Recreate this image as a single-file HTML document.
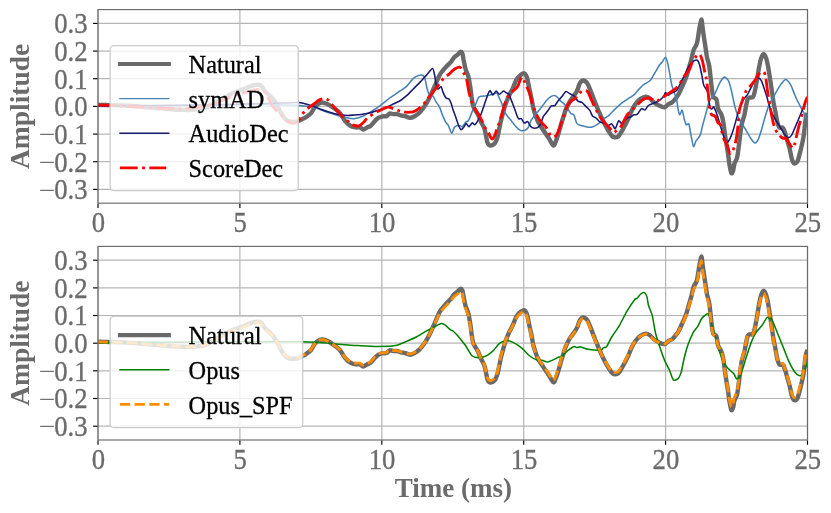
<!DOCTYPE html>
<html><head><meta charset="utf-8"><title>Waveform comparison</title>
<style>
html,body{margin:0;padding:0;background:#fff;}
svg{display:block;font-family:"Liberation Serif","Times New Roman",serif;}
.grid{stroke:#b5b5b5;stroke-width:1.2;}
.spine{fill:none;stroke:#6a6a6a;stroke-width:1.15;}
.tick{stroke:#000;stroke-width:1.15;}
.tl{font-size:29.5px;fill:#6b6b6b;stroke:#6b6b6b;stroke-width:0.35;}
.lab{font-size:27.5px;font-weight:bold;fill:#6b6b6b;}
.lt{font-size:25.2px;fill:#000;stroke:#000;stroke-width:0.3;}
.leg{fill:#fff;fill-opacity:0.8;stroke:#ccc;stroke-width:1.3;}
path,line{fill:none;}
.nat{stroke:#696969;stroke-width:4.4;stroke-linejoin:round;stroke-linecap:butt;}
.sym{stroke:#4682b4;stroke-width:1.55;stroke-linejoin:round;}
.aud{stroke:#191970;stroke-width:1.55;stroke-linejoin:round;}
.sco{stroke:#ff0000;stroke-width:2.85;stroke-dasharray:17.8 4.4 2.8 4.4;stroke-linejoin:round;}
.opu{stroke:#008000;stroke-width:1.55;stroke-linejoin:round;}
.nat.ls{stroke-width:4.2;}
.sym.ls,.aud.ls,.opu.ls{stroke-width:1.4;}
.spf{stroke:#ff8c00;stroke-width:2.85;stroke-dasharray:10.3 4.4;stroke-linejoin:round;}
</style></head><body>
<svg width="831" height="513" viewBox="0 0 831 513">
<rect width="831" height="513" fill="#fff"/>
<defs>
<clipPath id="c1"><rect x="98" y="9.6" width="709.5" height="193.6"/></clipPath>
<clipPath id="c2"><rect x="98" y="246.4" width="709.5" height="193.6"/></clipPath>
</defs>
<g class="ax">
<line x1="98" x2="807.5" y1="189.4" y2="189.4" class="grid"/>
<line x1="98" x2="807.5" y1="161.7" y2="161.7" class="grid"/>
<line x1="98" x2="807.5" y1="134.1" y2="134.1" class="grid"/>
<line x1="98" x2="807.5" y1="106.4" y2="106.4" class="grid"/>
<line x1="98" x2="807.5" y1="78.7" y2="78.7" class="grid"/>
<line x1="98" x2="807.5" y1="51.1" y2="51.1" class="grid"/>
<line x1="98" x2="807.5" y1="23.4" y2="23.4" class="grid"/>
<line x1="98" x2="98" y1="9.6" y2="203.2" class="grid"/>
<line x1="239.9" x2="239.9" y1="9.6" y2="203.2" class="grid"/>
<line x1="381.8" x2="381.8" y1="9.6" y2="203.2" class="grid"/>
<line x1="523.7" x2="523.7" y1="9.6" y2="203.2" class="grid"/>
<line x1="665.6" x2="665.6" y1="9.6" y2="203.2" class="grid"/>
<line x1="807.5" x2="807.5" y1="9.6" y2="203.2" class="grid"/>
</g>
<g clip-path="url(#c1)">
<path class="nat" d="M97.5 104.9 C99.6 104.9 105.6 105 110 105.1 C114.4 105.2 119 105.2 124 105.5 C129 105.8 135.2 106.2 140 106.6 C144.8 107 148.8 107.3 153 107.7 C157.2 108.1 161.4 108.4 165 108.7 C168.6 109 171.6 109.3 174.4 109.5 C177.2 109.7 179.6 109.8 182 109.9 C184.4 110 186.7 110 189 110 C191.3 110 193.6 109.8 196 109.6 C198.4 109.4 201.1 109.3 203.3 108.8 C205.5 108.2 206.5 107.6 209 106.3 C211.5 105 215.5 102.5 218.2 101 C220.9 99.5 222.8 98.4 225 97.2 C227.2 96 229.5 94.6 231.5 93.7 C233.5 92.8 235.2 92.2 237 91.6 C238.8 90.9 240.6 90.4 242.1 89.8 C243.6 89.2 244.7 88.8 246 88.2 C247.3 87.7 248.7 87 250 86.5 C251.3 86 252.7 85.5 254 85.2 C255.3 84.9 256.7 84.6 257.9 84.7 C259.1 84.8 260.3 84.9 261.4 86 C262.5 87.1 263.3 89.4 264.7 91.1 C266.1 92.8 268.4 94.3 270 95.9 C271.6 97.5 273.1 99 274.3 100.7 C275.6 102.4 276.4 104.1 277.5 106.1 C278.6 108.1 279.6 110.6 280.7 112.5 C281.8 114.4 282.8 116 283.9 117.3 C285 118.6 285.9 119.8 287.2 120.6 C288.4 121.3 290 121.6 291.4 121.8 C292.8 122 294.5 121.9 295.7 121.8 C296.9 121.7 297.3 121.4 298.4 121 C299.4 120.6 300.8 119.9 302 119.3 C303.2 118.7 304.1 118.4 305.6 117.4 C307.1 116.4 309.3 115.2 310.9 113.4 C312.4 111.6 313.6 108.5 314.9 106.8 C316.2 105.1 317.6 104.2 318.9 103.5 C320.2 102.8 321.3 102.4 322.8 102.6 C324.3 102.8 326.1 103.4 328.1 104.4 C330.1 105.4 332.8 107.3 334.8 108.8 C336.8 110.3 338.3 111.3 340.1 113.4 C341.9 115.5 343.6 119.3 345.4 121.4 C347.2 123.5 348.9 125 350.7 126 C352.5 127 354.5 127.2 356 127.4 C357.5 127.6 358.7 127 359.9 127.4 C361.1 127.8 362.1 129.6 363.3 129.6 C364.5 129.6 366 128 367.2 127.4 C368.4 126.8 369.3 127 370.5 126 C371.7 125 373.2 122.8 374.5 121.4 C375.8 120 377.2 118.5 378.5 117.7 C379.8 116.9 381.2 116.7 382.5 116.4 C383.8 116.1 385.3 116.6 386.5 116.1 C387.7 115.6 388.7 113.7 389.8 113.4 C390.9 113.1 391.9 114 393.1 114.1 C394.3 114.2 395.7 113.9 397 114.1 C398.3 114.3 399.6 115.1 401 115.4 C402.4 115.8 403.8 115.8 405.3 116.2 C406.8 116.6 408.3 117.8 409.9 117.8 C411.4 117.8 412.9 117.1 414.6 116.2 C416.3 115.3 418.2 113.9 419.9 112.2 C421.5 110.5 423.2 108.1 424.5 106.3 C425.8 104.5 426.4 103.5 427.5 101.5 C428.6 99.5 429.7 97.3 431.1 94.3 C432.5 91.3 434.4 87 435.8 83.7 C437.2 80.4 438.7 76.8 439.8 74.7 C440.9 72.6 441.3 72.5 442.4 71.1 C443.5 69.7 445 68 446.4 66.5 C447.8 65 449.8 63.3 451 61.9 C452.2 60.5 452.6 59.1 453.7 57.9 C454.8 56.7 456.6 55.6 457.7 54.6 C458.8 53.6 459.5 52.1 460.3 51.9 C461.1 51.7 461.8 52 462.3 53.3 C462.9 54.6 463.1 57.2 463.6 59.9 C464.2 62.5 464.8 66.5 465.6 69.2 C466.4 72 467.5 73.5 468.3 76.4 C469.1 79.3 469.6 83 470.2 86.4 C470.8 89.8 471.2 93.9 471.6 97 C472.1 100.1 472.5 103.1 472.9 105 C473.3 106.9 473.3 106.6 474.2 108.3 C475.1 110 477.1 112.7 478.2 114.9 C479.3 117.1 479.8 119.3 480.8 121.5 C481.8 123.7 483.3 125.7 484.2 128.1 C485.1 130.5 485.6 133.7 486.1 136.1 C486.7 138.5 486.8 141.1 487.5 142.7 C488.2 144.3 488.9 145.5 490.1 145.6 C491.3 145.7 493.6 144.8 494.8 143.4 C496 142 496.6 140 497.4 137.4 C498.2 134.8 498.7 131.2 499.4 128.1 C500.1 125 500.5 122.4 501.4 118.9 C502.3 115.4 503.8 110 504.7 106.9 C505.6 103.8 506.3 102.3 507 100.5 C507.7 98.7 508 97.9 509 95.8 C510 93.7 511.8 90.4 513 87.8 C514.2 85.2 515.2 81.9 516.3 79.9 C517.4 77.9 518.3 77 519.6 75.9 C520.9 74.8 523 73.1 524.2 73.3 C525.4 73.5 526.1 75 526.9 77.2 C527.7 79.4 528.1 83 528.9 86.5 C529.7 90 530.7 94.7 531.5 98.4 C532.3 102.2 532.7 105.9 533.5 109 C534.3 112.1 535.3 114.8 536.1 117 C536.9 119.2 537.2 120.3 538.4 122.5 C539.6 124.7 541.7 127.6 543.4 130.2 C545.1 132.8 547 135.6 548.7 138.1 C550.4 140.6 552.2 144.9 553.4 145.4 C554.6 145.9 555.1 142.9 556 140.8 C556.9 138.7 557.8 135.7 558.7 132.8 C559.6 129.9 560.5 126.3 561.3 123.6 C562.1 120.8 562.8 118.7 563.6 116.3 C564.4 113.9 564.9 111.5 566 109 C567.1 106.5 568.7 103.3 570 101.1 C571.3 98.9 572.7 97.6 573.9 95.8 C575.1 94 576.2 92.6 577.2 90.5 C578.2 88.4 578.9 84.9 579.9 83.2 C580.9 81.5 582 80.5 583.2 80.5 C584.4 80.5 586 81.5 587.2 83.2 C588.4 84.9 589.4 87.8 590.5 90.5 C591.6 93.2 592.6 96 593.8 99.1 C595 102.2 596.6 106.2 597.8 109 C599 111.8 599.7 113.6 600.8 116 C601.9 118.4 603.1 121.1 604.4 123.6 C605.7 126.1 607.2 128.8 608.4 130.8 C609.6 132.8 610.8 134.5 611.7 135.6 C612.6 136.7 612.8 137 613.8 137.2 C614.8 137.4 616.8 137.6 618 136.7 C619.2 135.8 620.2 133.8 621.3 132 C622.4 130.2 623.4 128.4 624.6 126.1 C625.8 123.8 627.4 120.8 628.6 118.1 C629.8 115.4 630.7 112.6 631.9 110.2 C633.1 107.8 634.4 105.5 635.8 103.6 C637.2 101.7 638.8 100.1 640.5 98.9 C642.2 97.8 644.2 96.8 645.8 96.7 C647.3 96.6 648.5 97.4 649.8 98.3 C651.1 99.2 652.2 101 653.7 102.2 C655.2 103.4 657.2 104.6 659 105.5 C660.8 106.4 662.9 107.6 664.4 107.4 C665.9 107.2 667 105.1 668.3 104.2 C669.6 103.3 671 103.3 672.3 102.2 C673.6 101.1 675.2 99 676.3 97.6 C677.4 96.2 677.7 95.9 678.7 94 C679.7 92.1 681.1 89 682.4 86.1 C683.7 83.2 685.2 79.9 686.3 76.8 C687.4 73.7 688.2 70.4 689 67.5 C689.8 64.6 690.5 62.4 691.3 59.5 C692.1 56.6 692.7 52.8 693.6 50.1 C694.5 47.4 696 46.5 696.9 43.4 C697.8 40.3 698.2 35.5 698.9 31.5 C699.6 27.5 700.6 19.8 701.3 19.6 C702 19.4 702.3 26.2 702.9 30.2 C703.5 34.2 704.2 39 704.9 43.4 C705.6 47.8 706.2 53 706.9 56.8 C707.6 60.6 708.6 62.2 709.2 66 C709.9 69.8 710.3 75.3 710.8 79.5 C711.3 83.7 711.8 88.5 712.2 91.4 C712.6 94.3 712.7 95.7 713.4 97 C714.1 98.3 715.7 97.6 716.5 99.5 C717.3 101.4 717.2 106 718 108.5 C718.8 111 720.3 112 721.2 114.2 C722.1 116.4 722.7 118.7 723.2 121.5 C723.8 124.3 724.1 127.7 724.5 130.8 C724.9 133.9 725.2 136.6 725.8 140.2 C726.3 143.8 727.2 148.2 727.8 152.2 C728.4 156.2 728.9 161.1 729.4 164.2 C729.9 167.3 730.4 169.3 730.7 170.8 C731.1 172.3 731.1 173.4 731.5 173.4 C731.9 173.4 732.6 172.5 733.1 170.8 C733.6 169.2 733.8 165.7 734.5 163.5 C735.2 161.3 736.4 160.3 737.1 157.5 C737.8 154.7 738.2 150.7 738.7 146.9 C739.2 143.2 739.7 138.8 740.2 135 C740.7 131.2 741 127.5 741.7 124.2 C742.4 120.9 743.6 118.2 744.4 114.9 C745.2 111.6 745.8 107 746.4 104.3 C747 101.6 747.2 100.1 747.8 99 C748.3 97.9 748.8 97.8 749.7 97.5 C750.6 97.2 752.1 98.2 753 97 C753.9 95.8 754.3 93.3 755 90.4 C755.7 87.5 756.3 83.6 757 79.8 C757.7 76 758.3 71.3 759 67.8 C759.7 64.3 760.2 60.9 761 58.6 C761.8 56.3 762.7 53.9 763.6 53.9 C764.5 53.9 765.5 56.3 766.3 58.6 C767.1 60.9 767.6 64.3 768.3 67.8 C768.9 71.3 769.6 75.5 770.2 79.8 C770.9 84.1 771.6 89.6 772.2 93.5 C772.8 97.4 773.1 99.9 773.6 103 C774.1 106.1 774.9 108.9 775.5 112.2 C776.1 115.5 776.8 120.2 777.5 122.8 C778.2 125.4 778.6 126.9 779.5 127.7 C780.4 128.5 781.9 127 782.8 127.7 C783.7 128.4 784.1 130.2 784.8 132.1 C785.5 134 786.1 136.6 786.9 139.3 C787.7 142 788.7 145.3 789.5 148.3 C790.3 151.3 791 155.3 791.5 157.5 C792 159.7 792.3 160.5 792.8 161.5 C793.3 162.5 793.6 163.5 794.4 163.5 C795.2 163.5 796.6 162.9 797.4 161.5 C798.2 160.1 798.7 157.3 799.4 154.9 C800.1 152.5 800.7 149.8 801.4 146.9 C802.1 144 802.8 141 803.4 137.7 C804 134.3 804.3 130.2 804.7 126.8 C805.1 123.4 805.5 119.8 806 117.5 C806.5 115.2 807.2 113.8 807.5 113"/>
<path class="sym" d="M97.5 106 C109.5 105.9 181 105.7 200 105.5 C219 105.3 250.1 104.6 260 104.5 C269.9 104.4 280.4 104.9 285 105 C289.6 105.1 296.3 105.3 299 105.5 C301.7 105.7 306.4 106.3 308.3 106.5 C310.2 106.7 313.4 107.1 314.9 107.5 C316.4 107.9 320 109.5 321.5 110.1 C323 110.7 326.5 111.9 328.1 112.4 C329.7 112.9 333.2 114 334.8 114.5 C336.4 115 339.9 116 341.4 116.4 C342.9 116.8 346.6 117.8 348 118.1 C349.4 118.4 352.1 118.7 353.3 118.7 C354.5 118.7 357.4 118 358.6 117.7 C359.8 117.4 362.7 116.4 363.9 115.8 C365.1 115.2 368 113.5 369.2 112.8 C370.4 112.1 373.1 110.4 374.5 109.5 C375.9 108.6 379.6 106 381.2 104.8 C382.8 103.6 386.3 100.7 387.8 99.5 C389.3 98.3 392.9 95.9 394.4 94.9 C395.9 93.9 399.1 91.7 400.5 90.7 C401.9 89.7 405.1 87.8 406.6 86.4 C408.1 85 411.9 79.7 413.3 78.4 C414.7 77.1 417.4 75.8 418.6 75.5 C419.8 75.2 422.4 75 423.2 75.5 C424 76 424.7 78.2 425.2 79.8 C425.7 81.4 426.7 87.3 427.2 89 C427.7 90.7 428.5 93.4 429.2 94.3 C429.9 95.2 432.3 95.5 433.1 96.3 C433.9 97.1 435 100 435.8 101.3 C436.6 102.6 439 106 439.8 107.6 C440.6 109.2 441.7 113.2 442.4 114.9 C443.1 116.6 445 121 445.7 122.2 C446.4 123.4 447.7 124.2 448.4 125.5 C449.1 126.8 451 133 451.7 133.2 C452.4 133.4 453.7 128.4 454.3 127.5 C454.9 126.6 456.3 125.9 457 125.7 C457.7 125.5 459.7 125.6 460.3 125.7 C460.9 125.8 461.7 127.2 462.3 126.8 C462.9 126.4 464.9 122.9 465.6 122.2 C466.3 121.5 467.7 121.7 468.3 120.8 C468.9 119.9 470.3 116.4 470.9 114.9 C471.5 113.4 473 109.7 473.6 108.3 C474.2 106.9 475.7 104.2 476.2 103 C476.7 101.8 477.7 98.7 478.2 97.9 C478.7 97.1 479.8 96.6 480.8 96.3 C481.8 96 485.6 95.9 487 95.7 C488.4 95.5 491.7 94.6 492.8 94.3 C493.9 94 496 92.7 496.8 93.2 C497.6 93.7 498.9 97.2 499.4 98.3 C499.9 99.4 500.9 101.2 501.5 102.8 C502.1 104.4 504 110.5 504.7 112 C505.4 113.5 506.7 115.1 507.4 116 C508.1 116.9 509.3 118.3 510.3 119.5 C511.3 120.7 514.4 124.9 515.6 126.2 C516.8 127.5 519.1 129.9 520.2 130.4 C521.3 130.9 524 130.5 524.9 130.2 C525.8 129.9 527.4 128.7 528.2 127.5 C529 126.3 530.5 121.3 531.5 119.6 C532.5 117.9 535.6 114.5 536.8 113 C538 111.5 541 107.8 542.1 106.4 C543.2 105 545.2 102.2 546.1 101.1 C547 100 549.1 97.8 550.1 97.1 C551.1 96.4 553.8 95.4 554.7 95.5 C555.6 95.6 557.3 97.1 558 97.8 C558.7 98.5 559.9 100.3 560.7 101.1 C561.5 101.9 563.7 103.4 564.6 104.4 C565.5 105.4 567.6 108.6 568.3 109.7 C569 110.8 570.2 113 570.9 113.6 C571.6 114.2 573.2 113.9 573.9 115 C574.6 116.1 576 121.8 576.6 123 C577.2 124.2 578.4 124.5 579.2 124.9 C580 125.3 582.2 125.8 583.2 126.1 C584.2 126.4 586.9 127.1 588 127.2 C589.1 127.3 591.8 127.1 593 126.7 C594.2 126.3 597.2 124.5 598.5 123.6 C599.8 122.7 602.6 119.7 603.8 118.7 C605 117.7 607.7 116.4 609 115.3 C610.3 114.2 613.8 110.3 615.3 108.9 C616.8 107.5 620.3 104.1 621.9 102.9 C623.5 101.7 627.2 99.2 628.6 98.3 C630 97.4 632.8 95.8 633.9 94.9 C635 94 636.9 91.5 638 90.3 C639.1 89.1 641.9 85.9 643.3 84.8 C644.7 83.7 648.6 82.1 649.9 80.8 C651.2 79.5 653.4 75.3 654.5 73.5 C655.6 71.7 658.3 66.9 659.2 65.5 C660.1 64.1 661.8 62.6 662.5 61.6 C663.2 60.6 664.9 57 665.5 57.2 C666.1 57.4 667.3 61.6 667.8 63.6 C668.3 65.6 669.3 71.7 669.8 74.2 C670.3 76.7 671.1 82.5 671.7 84.8 C672.3 87.1 674.1 92 674.6 93.5 C675.1 95 676 96.4 676.4 98 C676.8 99.6 677.4 105.5 677.8 107.5 C678.2 109.5 679.1 114.5 679.6 114.8 C680.1 115.1 681.7 109.7 682.2 110.2 C682.7 110.7 683.7 117.1 684.2 118.8 C684.7 120.5 685.7 124.2 686.2 124.8 C686.7 125.4 688.4 123 688.9 124.1 C689.4 125.2 690.3 131.4 690.8 134 C691.3 136.6 692.9 145.8 693.5 146.6 C694.1 147.4 695.3 142 696.1 140.7 C696.9 139.4 699.3 137.3 700.1 135.4 C700.9 133.5 702.1 127.5 702.8 124.8 C703.5 122.1 705.5 114.8 706.3 112 C707.1 109.2 708.5 102.8 709.5 100.7 C710.5 98.6 713.7 95.9 714.8 94 C715.9 92.1 717.9 86.6 718.8 84.8 C719.7 83 722.1 79.2 722.8 78.3 C723.5 77.4 724.3 76.9 725 77.2 C725.7 77.5 727.8 79.4 728.6 81 C729.4 82.6 730.8 88.2 731.5 91 C732.2 93.8 733.7 101.9 734.5 105 C735.3 108.1 737.5 115.3 738.4 117.5 C739.3 119.7 741.5 122.6 742.4 124.2 C743.3 125.8 745.4 129.1 746.4 130.8 C747.4 132.5 750 137.3 751 138.7 C752 140.1 754.1 142.9 755 143 C755.9 143.1 757.5 141 758.3 139.4 C759.1 137.8 760.8 132.1 761.6 129.5 C762.4 126.9 764 120.3 764.9 117.5 C765.8 114.7 767.8 107.9 768.9 105.4 C770 102.9 773 97.9 774.2 95.7 C775.4 93.5 778.2 88.3 779.5 86.4 C780.8 84.5 784.2 79.7 785.5 79.5 C786.8 79.3 789.7 83.3 790.8 85.1 C791.9 86.8 793.7 92.5 794.6 94.5 C795.5 96.5 797.4 100.7 798.3 102.5 C799.2 104.3 801.2 107.8 802.1 109.6 C803 111.3 805.4 116.2 806 117.5 C806.6 118.8 807.3 120.2 807.5 120.5"/>
<path class="aud" d="M97.5 106 C109.5 105.9 181 105.3 200 105 C219 104.7 250.1 103.7 260 103.5 C269.9 103.3 280.4 103.1 285 103 C289.6 102.9 296.3 102.4 299 102.6 C301.7 102.8 306.4 104.3 308.3 104.8 C310.2 105.3 313.4 106.3 314.9 106.8 C316.4 107.3 320 108.9 321.5 109.5 C323 110.1 326.5 111.3 328.1 111.8 C329.7 112.3 333.2 113.3 334.8 113.7 C336.4 114.1 339.9 114.8 341.4 115 C342.9 115.2 346.5 115.4 348 115.4 C349.5 115.4 353 115.1 354.6 115 C356.2 114.9 359.7 114.6 361.3 114.4 C362.9 114.2 366.4 113.5 367.9 113.2 C369.4 112.9 372.9 111.9 374.5 111.4 C376.1 110.9 379.6 109.7 381.2 109.2 C382.8 108.7 386.3 107.5 387.8 106.8 C389.3 106.1 392.9 104.2 394.4 103.5 C395.9 102.8 399.1 101.4 400.5 100.5 C401.9 99.6 405.1 97 406.6 95.7 C408.1 94.4 411.7 90.6 413.3 89 C414.9 87.4 418.4 84 419.9 82.4 C421.4 80.8 425 76.7 426.5 75.1 C428 73.5 431.6 68.6 432.5 68.5 C433.4 68.4 434.1 72.7 434.5 74.5 C434.9 76.3 435.6 82 436 83.7 C436.4 85.4 437.2 88.7 437.8 89 C438.4 89.3 440.5 86.3 441.1 86.7 C441.7 87.1 442.6 91.3 443.1 92.4 C443.6 93.5 444.6 95.8 445 96.5 C445.4 97.2 445.9 98 446.4 98.3 C446.9 98.6 448.5 98.5 449 99 C449.5 99.5 450.5 101.8 451 103 C451.5 104.2 452.5 108 453 109.6 C453.5 111.2 455.1 115.1 455.7 116.9 C456.3 118.7 457.7 123.3 458.3 124.8 C458.9 126.3 460.4 129.4 461 129.7 C461.6 130 463 128.2 463.6 127.5 C464.2 126.8 465.7 123.6 466.3 123.5 C466.9 123.4 468.2 126.9 468.9 126.8 C469.6 126.7 471.5 123 472.2 122.8 C472.9 122.6 474.2 125.1 474.9 124.8 C475.6 124.5 477.5 121.4 478.2 120.2 C478.9 119 480.2 116.3 480.8 114.9 C481.4 113.5 482.7 109.5 483.3 107.8 C483.9 106.1 485.1 102.2 485.7 100.6 C486.3 99 487.6 94.9 488.1 93.7 C488.6 92.5 489.6 90.2 490.1 90.4 C490.6 90.6 492.1 94.9 492.8 95 C493.5 95.1 495.3 91.1 496.1 91 C496.9 90.9 498.5 94.3 499.4 94.3 C500.3 94.3 502.6 91.2 503.4 91 C504.2 90.8 505.3 92.3 506 92.7 C506.7 93.1 508.3 93.2 509 94.2 C509.7 95.2 511 99.5 511.6 101.1 C512.2 102.7 513.6 106.2 514.3 108 C515 109.8 516.8 115.2 517.3 116.5 C517.8 117.8 518.4 118.8 518.9 119 C519.4 119.2 520.7 118 521.3 118.5 C521.9 119 523.4 122.6 524.2 123 C525 123.4 527.1 121.2 527.8 121.6 C528.5 122 529.8 125.5 530.5 126.3 C531.2 127.1 532.6 128 533.5 128.1 C534.4 128.2 537.2 127.7 538.1 127.2 C539 126.7 540.2 125.2 540.8 123.9 C541.4 122.6 542.6 117.8 543.4 116.3 C544.2 114.8 546.5 112.5 547.4 111.3 C548.3 110.1 550.5 106.6 551.4 105.9 C552.3 105.2 553.9 106.3 554.7 105.7 C555.5 105.1 557.1 102.2 558 101.1 C558.9 100 561.1 97.5 562 96.4 C562.9 95.3 565.1 91.8 566 91.5 C566.9 91.2 569 93.3 569.9 93.8 C570.8 94.3 573 94.9 573.9 95.8 C574.8 96.7 577 100.3 577.9 101.1 C578.8 101.9 581 101.8 581.9 102.4 C582.8 103 584.9 105.5 585.8 106.4 C586.7 107.3 589 109.3 589.8 110.4 C590.6 111.5 591.7 115.1 592.5 116 C593.3 116.9 595.5 117.6 596.4 118.3 C597.3 119 598.9 121.3 599.8 121.9 C600.7 122.5 603.4 123.2 604.4 123.6 C605.4 124 607.6 125.5 608.4 125.5 C609.2 125.5 610.9 123.7 611.5 123.8 C612.1 123.9 613.1 125.9 613.5 126.5 C613.9 127.1 614.7 129.4 615.3 128.7 C615.9 128 617.9 121.4 618.6 120.8 C619.3 120.2 620.8 123.3 621.3 123.4 C621.8 123.5 622.6 122 623.3 121.4 C624 120.8 626.3 118.6 627.2 118.1 C628.1 117.6 630.4 117.2 631.2 116.8 C632 116.4 633.2 115.1 633.9 114.8 C634.6 114.5 636.5 114.9 637.2 114.4 C637.9 113.9 639.3 111.5 639.8 110.8 C640.3 110.1 641.2 108.7 641.8 108.6 C642.4 108.5 644.3 110.3 645.1 109.9 C645.9 109.5 647.5 106.2 648.4 105.5 C649.3 104.8 651.5 104 652.4 103.6 C653.3 103.2 655.5 102.7 656.4 102.2 C657.3 101.7 659.5 100.3 660.4 99.6 C661.3 98.9 663.1 97.1 663.7 96.3 C664.3 95.5 664.9 92.7 665.4 92.6 C665.9 92.5 667.3 95.2 668 95.2 C668.7 95.2 670.5 93.5 671.5 93 C672.5 92.5 675.4 91.8 676.4 90.8 C677.4 89.8 678.8 86.6 679.7 84.8 C680.6 83 683.3 77.5 684.3 75.5 C685.3 73.5 687.4 69.1 688.3 67.5 C689.2 65.9 691.3 63.1 692.3 62.2 C693.3 61.3 696 59.8 696.9 60.1 C697.8 60.4 699.1 63.2 699.6 64.8 C700.1 66.4 701.1 71.7 701.6 74 C702.1 76.3 703.1 83.2 703.6 84.8 C704.1 86.4 705 87.2 705.5 88 C706 88.8 707.1 90.3 707.5 91.8 C707.9 93.3 708.6 98.9 708.9 100.7 C709.2 102.5 709.9 106.5 710.2 107.5 C710.6 108.5 711.5 109 711.9 108.9 C712.3 108.8 713.2 106.4 713.7 106.9 C714.2 107.4 716 111.9 716.6 113.6 C717.2 115.3 718.6 119.5 719.2 121.5 C719.8 123.5 721.2 128.6 721.9 130.8 C722.6 133 724.5 138.8 725.2 140.1 C725.9 141.4 727.1 142.6 727.8 142.1 C728.5 141.6 730.4 137.7 731.1 136.1 C731.8 134.5 733.2 130.1 733.8 128.1 C734.4 126.1 735.8 121.1 736.4 118.9 C737 116.7 738.4 111.6 739.1 109.6 C739.8 107.6 741.7 103 742.4 101.6 C743.1 100.2 744.4 98.4 745 97.5 C745.6 96.6 746.9 95.6 747.7 94.3 C748.5 93 750.8 88.1 751.7 86.4 C752.6 84.7 754.1 80.8 755 79.8 C755.9 78.8 758.2 78 759 78.2 C759.8 78.4 761 79.8 761.6 81.1 C762.2 82.4 763.7 87.1 764.3 89 C764.9 90.9 766.4 95.2 766.9 97 C767.4 98.8 768.3 102.4 768.9 104.3 C769.5 106.2 771.3 111.7 772.2 113.6 C773.1 115.5 775.2 119.1 776.2 120.8 C777.2 122.5 779.8 126.5 780.8 128.1 C781.8 129.7 783.9 133.7 784.8 134.8 C785.7 135.9 787.3 137.6 788.1 137.7 C788.9 137.8 790.7 136.5 791.5 135.4 C792.3 134.3 794 129.9 794.8 128.1 C795.6 126.3 797.3 122.1 798.1 120.2 C798.9 118.3 800.6 114.1 801.4 112.2 C802.2 110.3 804 105.9 804.7 104.3 C805.4 102.7 807.2 99.2 807.5 98.5"/>
<path class="sco" d="M97.5 105.2 C99.6 105.2 104.6 105.1 110 105.3 C115.4 105.5 121.7 106 130 106.5 C138.3 107 150.8 107.6 160 108 C169.2 108.4 177 109.3 185 108.8 C193 108.3 202.2 106.4 208 105.2 C213.8 104 216.3 102.8 220 101.5 C223.7 100.2 225.8 99 230 97.5 C234.2 96 241.2 93.7 245 92.5 C248.8 91.3 250.8 90.8 253 90.3 C255.2 89.8 256.2 89.6 258 89.8 C259.8 90 262.1 89.9 263.8 91.2 C265.5 92.5 266.6 95.1 268 97.5 C269.4 99.9 271.1 103.5 272.4 105.6 C273.7 107.7 274.1 108 276 110 C277.9 112 281.7 115.8 283.9 117.8 C286.1 119.8 287.5 121.1 289 122 C290.5 122.9 291.7 123.1 292.9 123.2 C294.1 123.3 295 123 296 122.5 C297 122 297.9 121.4 299 120 C300.1 118.6 300.8 116.1 302.3 114.1 C303.9 112.1 306.4 109.8 308.3 108.1 C310.2 106.4 311.7 105.6 313.6 104.2 C315.5 102.8 317.5 100.8 319.5 99.9 C321.5 99 323.8 98.3 325.5 98.6 C327.2 98.9 327.9 99.9 329.5 101.5 C331.1 103.1 332.9 105.9 334.8 108.1 C336.7 110.3 338.7 112.8 340.7 114.8 C342.7 116.8 344.8 118.3 346.7 120 C348.6 121.7 350.2 123.7 352 124.7 C353.8 125.7 356 125.9 357.3 126 C358.6 126.1 358.9 126.1 360 125.4 C361.1 124.7 362.6 123.3 363.9 122 C365.2 120.7 366.1 118.8 367.9 117.4 C369.7 116 372.3 114.7 374.5 113.4 C376.7 112.1 379 110.8 381.2 109.7 C383.4 108.7 385.7 107.2 387.8 107.1 C389.9 106.9 391.9 108.2 393.7 108.8 C395.5 109.4 397 110.1 398.4 110.5 C399.8 110.9 400.9 111.1 402 111.4 C403.1 111.7 403.9 112.1 405.3 112.2 C406.7 112.3 409 112.4 410.6 112.2 C412.2 112 413.6 111.7 415.2 110.9 C416.8 110.1 418.2 109 419.9 107.6 C421.6 106.2 423.3 104.6 425.2 102.3 C427.1 100 429.3 96.9 431.5 94 C433.7 91.1 436.4 87.7 438.4 85.1 C440.4 82.5 442 80.1 443.7 78.4 C445.4 76.7 446.7 76.1 448.4 74.7 C450.1 73.3 451.8 71 453.7 69.8 C455.6 68.5 458.1 66.9 459.6 67.2 C461.2 67.5 461.9 69.9 463 71.8 C464.1 73.7 465.5 76 466.3 78.4 C467.1 80.8 467.3 83.6 467.9 86.4 C468.4 89.2 468.9 92.3 469.6 95 C470.3 97.7 471 100 472 102.5 C473 105 474.2 107.9 475.5 110.2 C476.8 112.5 478.4 114.3 479.5 116.2 C480.6 118.1 481.3 119.6 482.2 121.5 C483.1 123.4 483.8 125.7 484.8 127.5 C485.8 129.3 487 130.2 488.1 132.1 C489.2 134 490.5 137.9 491.5 138.7 C492.5 139.5 493.2 138.2 494.1 136.7 C495 135.2 495.9 131.9 496.8 129.5 C497.7 127.1 498.5 124.9 499.4 122.2 C500.3 119.5 501.2 116.6 502.1 113.6 C503 110.6 503.9 106.7 504.8 104 C505.7 101.3 506.6 99 507.4 97.5 C508.2 96 508.6 96.1 509.5 95 C510.4 93.9 511.6 92.5 513 91.1 C514.4 89.7 516.4 88.4 517.6 86.5 C518.8 84.6 519.4 81.5 520.2 79.9 C521 78.4 521.3 76.5 522.2 77.2 C523.1 77.9 524.3 81.2 525.5 83.9 C526.7 86.6 528.3 89.6 529.5 93.1 C530.7 96.6 531.7 101.7 532.8 105.1 C533.9 108.5 535 111.1 536.1 113.6 C537.2 116 538.3 118 539.5 119.8 C540.7 121.6 542.2 123.1 543.4 124.5 C544.6 125.9 545.6 126.5 546.7 128.2 C547.8 129.9 549 133.4 550.1 134.8 C551.2 136.2 552.3 136.8 553.4 136.8 C554.5 136.8 555.7 136.2 556.7 134.8 C557.7 133.5 558.4 131 559.3 128.7 C560.2 126.4 561.1 123.5 562 121 C562.9 118.5 563.7 116.1 564.6 113.6 C565.5 111.1 566.2 108.1 567.3 106 C568.4 103.9 570 102.4 571.3 101.1 C572.6 99.8 574 99.6 575.2 98.4 C576.4 97.2 577.5 95 578.6 93.8 C579.7 92.6 580.9 92 581.9 91.5 C582.9 91 583.5 90.5 584.5 90.5 C585.5 90.5 586.7 90.4 587.8 91.8 C588.9 93.2 589.9 96.4 591.1 99.1 C592.3 101.8 593.7 104.9 595.1 107.7 C596.5 110.5 597.9 113.5 599.5 116 C601.1 118.5 603.3 121 605 123 C606.7 125 608.4 126.8 609.7 128.2 C611 129.6 612.2 130.9 613 131.5 C613.8 132.1 613.5 132.6 614.6 132 C615.8 131.4 618.5 129.8 619.9 128.1 C621.3 126.4 622.1 124.3 623.3 122.1 C624.5 119.9 625.7 116.9 627.2 114.8 C628.7 112.7 630.7 111.3 632.5 109.6 C634.3 107.8 636.2 106 638 104.3 C639.8 102.6 641.3 100.5 643.2 99.5 C645.1 98.5 647.4 97.8 649.5 98.1 C651.6 98.4 653.7 101.2 655.7 101.2 C657.8 101.2 659.8 99.3 661.8 98.1 C663.8 96.9 665.4 95.5 667.4 94.2 C669.4 92.9 671.7 91.7 673.6 90.2 C675.5 88.7 677.4 87 679 85 C680.6 83 681.7 80.1 683 78.1 C684.3 76.1 685.8 74.6 687 72.8 C688.2 71 689.4 69.3 690.3 67.5 C691.2 65.7 691.3 63.7 692.3 61.8 C693.3 59.9 695.1 57.5 696.3 56.3 C697.5 55.1 698.6 53.8 699.6 54.4 C700.6 55 701.4 57.5 702.2 60 C703 62.5 703.5 66.4 704.2 69.4 C704.9 72.4 705.7 75.1 706.2 78.1 C706.8 81.1 707.1 84.2 707.5 87.4 C707.9 90.6 708.4 93.8 708.7 97 C709 100.2 709 103.6 709.4 106.5 C709.8 109.4 710.3 112.5 711.3 114.2 C712.3 115.9 714.1 115 715.2 116.4 C716.3 117.8 717 121.4 717.9 122.8 C718.8 124.2 719.8 123.2 720.5 124.8 C721.2 126.3 721.3 129.8 721.9 132.1 C722.5 134.4 723 136.5 723.9 138.7 C724.8 140.9 726.2 143 727.2 145.4 C728.2 147.8 728.9 152.3 729.8 153.3 C730.7 154.3 731.6 152.9 732.5 151.3 C733.4 149.8 734.3 147 735.1 144 C735.9 141 736.6 137.2 737.1 133.4 C737.6 129.7 738 125.3 738.4 121.5 C738.8 117.7 738.6 114.1 739.3 110.5 C740 106.9 741.5 103.1 742.6 100 C743.7 96.9 744.3 94.2 745.7 91.7 C747.1 89.2 749.3 87.2 751 85.1 C752.7 83 754.4 81 755.7 79.1 C757 77.2 757.7 75 759 73.8 C760.3 72.6 762.5 71.2 763.6 71.8 C764.7 72.3 765.1 74.7 765.6 77.1 C766.1 79.5 766.5 83.2 766.9 86.4 C767.3 89.6 767.8 93.4 768.3 96.5 C768.8 99.6 769 101.9 769.6 105 C770.2 108.1 770.9 111.7 771.6 114.9 C772.3 118.1 772.8 121.5 773.6 124.2 C774.4 126.9 775.2 128.9 776.2 130.8 C777.2 132.7 778.4 134.2 779.5 135.4 C780.6 136.6 781.7 137.6 782.8 138.1 C783.9 138.6 785.1 137.9 786.1 138.7 C787.1 139.5 787.7 141.1 788.8 142.7 C789.9 144.2 791.8 147.8 792.8 148 C793.8 148.2 794.1 146.2 794.8 144 C795.5 141.8 796.1 137.7 796.8 134.8 C797.4 131.9 798.1 129.2 798.7 126.8 C799.4 124.4 800 122.6 800.7 120.2 C801.4 117.8 802 114.9 802.7 112.2 C803.4 109.5 804 106.3 804.7 104 C805.4 101.7 806.2 99.5 806.7 98.3 C807.2 97.1 807.4 97.2 807.5 97"/>
</g>
<rect x="98" y="9.6" width="709.5" height="193.6" class="spine"/>
<line x1="93.1" x2="97.5" y1="189.4" y2="189.4" class="tick"/>
<text transform="translate(87.6 199.2) scale(0.905 1)" class="tl" text-anchor="end">0.3</text>
<text transform="translate(55.4 197.5) scale(1 0.8)" class="tl" style="stroke-width:0" text-anchor="end">−</text>
<line x1="93.1" x2="97.5" y1="161.7" y2="161.7" class="tick"/>
<text transform="translate(87.6 171.5) scale(0.905 1)" class="tl" text-anchor="end">0.2</text>
<text transform="translate(55.4 169.9) scale(1 0.8)" class="tl" style="stroke-width:0" text-anchor="end">−</text>
<line x1="93.1" x2="97.5" y1="134.1" y2="134.1" class="tick"/>
<text transform="translate(87.6 143.9) scale(0.905 1)" class="tl" text-anchor="end">0.1</text>
<text transform="translate(55.4 142.2) scale(1 0.8)" class="tl" style="stroke-width:0" text-anchor="end">−</text>
<line x1="93.1" x2="97.5" y1="106.4" y2="106.4" class="tick"/>
<text transform="translate(87.6 116.2) scale(0.905 1)" class="tl" text-anchor="end">0.0</text>
<line x1="93.1" x2="97.5" y1="78.7" y2="78.7" class="tick"/>
<text transform="translate(87.6 88.5) scale(0.905 1)" class="tl" text-anchor="end">0.1</text>
<line x1="93.1" x2="97.5" y1="51.1" y2="51.1" class="tick"/>
<text transform="translate(87.6 60.9) scale(0.905 1)" class="tl" text-anchor="end">0.2</text>
<line x1="93.1" x2="97.5" y1="23.4" y2="23.4" class="tick"/>
<text transform="translate(87.6 33.2) scale(0.905 1)" class="tl" text-anchor="end">0.3</text>
<line x1="98" x2="98" y1="203.7" y2="208" class="tick"/>
<text transform="translate(98.3 232.4) scale(0.905 1)" class="tl" text-anchor="middle">0</text>
<line x1="239.9" x2="239.9" y1="203.7" y2="208" class="tick"/>
<text transform="translate(240.2 232.4) scale(0.905 1)" class="tl" text-anchor="middle">5</text>
<line x1="381.8" x2="381.8" y1="203.7" y2="208" class="tick"/>
<text transform="translate(382.1 232.4) scale(0.905 1)" class="tl" text-anchor="middle">10</text>
<line x1="523.7" x2="523.7" y1="203.7" y2="208" class="tick"/>
<text transform="translate(524 232.4) scale(0.905 1)" class="tl" text-anchor="middle">15</text>
<line x1="665.6" x2="665.6" y1="203.7" y2="208" class="tick"/>
<text transform="translate(665.9 232.4) scale(0.905 1)" class="tl" text-anchor="middle">20</text>
<line x1="807.5" x2="807.5" y1="203.7" y2="208" class="tick"/>
<text transform="translate(807.8 232.4) scale(0.905 1)" class="tl" text-anchor="middle">25</text>
<text transform="translate(28.5 106.4) rotate(-90)" class="lab" text-anchor="middle">Amplitude</text>
<rect x="110.1" y="45.6" width="188.2" height="145" rx="4" class="leg"/>
<line x1="117.9" x2="170.9" y1="64" y2="64" class="nat ls"/>
<text transform="translate(188.6 73.1) scale(0.965 1)" class="lt">Natural</text>
<line x1="119.3" x2="169.5" y1="98.6" y2="98.6" class="sym ls"/>
<text transform="translate(188.6 107.7) scale(0.965 1)" class="lt">symAD</text>
<line x1="119.3" x2="169.5" y1="133.2" y2="133.2" class="aud ls"/>
<text transform="translate(188.6 142.3) scale(0.965 1)" class="lt">AudioDec</text>
<line x1="119.9" x2="166.2" y1="167.8" y2="167.8" class="sco ls"/>
<text transform="translate(188.6 176.9) scale(0.965 1)" class="lt">ScoreDec</text>
<g class="ax">
<line x1="98" x2="807.5" y1="426.2" y2="426.2" class="grid"/>
<line x1="98" x2="807.5" y1="398.5" y2="398.5" class="grid"/>
<line x1="98" x2="807.5" y1="370.8" y2="370.8" class="grid"/>
<line x1="98" x2="807.5" y1="343.2" y2="343.2" class="grid"/>
<line x1="98" x2="807.5" y1="315.5" y2="315.5" class="grid"/>
<line x1="98" x2="807.5" y1="287.9" y2="287.9" class="grid"/>
<line x1="98" x2="807.5" y1="260.2" y2="260.2" class="grid"/>
<line x1="98" x2="98" y1="246.4" y2="440" class="grid"/>
<line x1="239.9" x2="239.9" y1="246.4" y2="440" class="grid"/>
<line x1="381.8" x2="381.8" y1="246.4" y2="440" class="grid"/>
<line x1="523.7" x2="523.7" y1="246.4" y2="440" class="grid"/>
<line x1="665.6" x2="665.6" y1="246.4" y2="440" class="grid"/>
<line x1="807.5" x2="807.5" y1="246.4" y2="440" class="grid"/>
</g>
<g clip-path="url(#c2)">
<path class="nat" d="M97.5 341.8 C99.6 341.8 105.6 341.9 110 342 C114.4 342.1 119 342.1 124 342.4 C129 342.6 135.2 343.1 140 343.5 C144.8 343.9 148.8 344.2 153 344.6 C157.2 344.9 161.4 345.3 165 345.6 C168.6 345.9 171.6 346.2 174.4 346.4 C177.2 346.6 179.6 346.7 182 346.8 C184.4 346.9 186.7 346.9 189 346.9 C191.3 346.8 193.6 346.7 196 346.5 C198.4 346.3 201.1 346.2 203.3 345.7 C205.5 345.1 206.5 344.5 209 343.2 C211.5 341.9 215.5 339.4 218.2 337.9 C220.9 336.4 222.8 335.3 225 334.1 C227.2 332.9 229.5 331.5 231.5 330.6 C233.5 329.7 235.2 329.1 237 328.5 C238.8 327.8 240.6 327.3 242.1 326.7 C243.6 326.1 244.7 325.6 246 325.1 C247.3 324.5 248.7 323.9 250 323.4 C251.3 322.9 252.7 322.4 254 322.1 C255.3 321.8 256.7 321.5 257.9 321.6 C259.1 321.7 260.3 321.8 261.4 322.9 C262.5 324 263.3 326.3 264.7 328 C266.1 329.6 268.4 331.2 270 332.8 C271.6 334.4 273.1 335.9 274.3 337.6 C275.6 339.3 276.4 341 277.5 343 C278.6 345 279.6 347.5 280.7 349.4 C281.8 351.3 282.8 352.8 283.9 354.2 C285 355.5 285.9 356.8 287.2 357.5 C288.4 358.2 290 358.5 291.4 358.7 C292.8 358.9 294.5 358.8 295.7 358.7 C296.9 358.6 297.3 358.3 298.4 357.9 C299.4 357.5 300.8 356.8 302 356.2 C303.2 355.6 304.1 355.3 305.6 354.3 C307.1 353.3 309.3 352.1 310.9 350.3 C312.4 348.5 313.6 345.3 314.9 343.7 C316.2 342 317.6 341.1 318.9 340.4 C320.2 339.7 321.3 339.3 322.8 339.5 C324.3 339.6 326.1 340.3 328.1 341.3 C330.1 342.3 332.8 344.2 334.8 345.7 C336.8 347.2 338.3 348.2 340.1 350.3 C341.9 352.4 343.6 356.2 345.4 358.3 C347.2 360.4 348.9 361.9 350.7 362.9 C352.5 363.9 354.5 364.1 356 364.3 C357.5 364.5 358.7 363.9 359.9 364.3 C361.1 364.7 362.1 366.5 363.3 366.5 C364.5 366.5 366 364.9 367.2 364.3 C368.4 363.7 369.3 363.9 370.5 362.9 C371.7 361.9 373.2 359.7 374.5 358.3 C375.8 356.9 377.2 355.4 378.5 354.6 C379.8 353.8 381.2 353.6 382.5 353.3 C383.8 353 385.3 353.5 386.5 353 C387.7 352.5 388.7 350.6 389.8 350.3 C390.9 350 391.9 350.9 393.1 351 C394.3 351.1 395.7 350.8 397 351 C398.3 351.2 399.6 351.9 401 352.3 C402.4 352.6 403.8 352.7 405.3 353.1 C406.8 353.5 408.3 354.7 409.9 354.7 C411.4 354.7 412.9 354 414.6 353.1 C416.3 352.2 418.2 350.8 419.9 349.1 C421.5 347.4 423.2 345 424.5 343.2 C425.8 341.4 426.4 340.4 427.5 338.4 C428.6 336.4 429.7 334.2 431.1 331.2 C432.5 328.2 434.4 323.9 435.8 320.6 C437.2 317.3 438.7 313.7 439.8 311.6 C440.9 309.5 441.3 309.4 442.4 308 C443.5 306.6 445 304.9 446.4 303.4 C447.8 301.9 449.8 300.2 451 298.8 C452.2 297.4 452.6 296 453.7 294.8 C454.8 293.6 456.6 292.5 457.7 291.5 C458.8 290.5 459.5 289 460.3 288.8 C461.1 288.6 461.8 288.9 462.3 290.2 C462.9 291.5 463.1 294.1 463.6 296.8 C464.2 299.4 464.8 303.3 465.6 306.1 C466.4 308.8 467.5 310.4 468.3 313.3 C469.1 316.2 469.6 319.9 470.2 323.3 C470.8 326.7 471.2 330.8 471.6 333.9 C472.1 337 472.5 340 472.9 341.9 C473.3 343.8 473.3 343.5 474.2 345.2 C475.1 346.8 477.1 349.6 478.2 351.8 C479.3 354 479.8 356.2 480.8 358.4 C481.8 360.6 483.3 362.6 484.2 365 C485.1 367.4 485.6 370.6 486.1 373 C486.7 375.4 486.8 378 487.5 379.6 C488.2 381.2 488.9 382.4 490.1 382.5 C491.3 382.6 493.6 381.7 494.8 380.3 C496 378.9 496.6 376.9 497.4 374.3 C498.2 371.8 498.7 368.1 499.4 365 C500.1 361.9 500.5 359.3 501.4 355.8 C502.3 352.3 503.8 346.9 504.7 343.8 C505.6 340.7 506.3 339.2 507 337.4 C507.7 335.5 508 334.8 509 332.7 C510 330.6 511.8 327.3 513 324.7 C514.2 322 515.2 318.8 516.3 316.8 C517.4 314.8 518.3 313.9 519.6 312.8 C520.9 311.7 523 310 524.2 310.2 C525.4 310.4 526.1 311.9 526.9 314.1 C527.7 316.3 528.1 319.9 528.9 323.4 C529.7 326.9 530.7 331.5 531.5 335.3 C532.3 339 532.7 342.8 533.5 345.9 C534.3 349 535.3 351.6 536.1 353.9 C536.9 356.1 537.2 357.2 538.4 359.4 C539.6 361.6 541.7 364.5 543.4 367.1 C545.1 369.7 547 372.5 548.7 375 C550.4 377.5 552.2 381.8 553.4 382.3 C554.6 382.8 555.1 379.8 556 377.7 C556.9 375.6 557.8 372.6 558.7 369.7 C559.6 366.8 560.5 363.2 561.3 360.5 C562.1 357.8 562.8 355.6 563.6 353.2 C564.4 350.8 564.9 348.4 566 345.9 C567.1 343.4 568.7 340.2 570 338 C571.3 335.8 572.7 334.5 573.9 332.7 C575.1 330.9 576.2 329.5 577.2 327.4 C578.2 325.3 578.9 321.8 579.9 320.1 C580.9 318.4 582 317.4 583.2 317.4 C584.4 317.4 586 318.4 587.2 320.1 C588.4 321.8 589.4 324.8 590.5 327.4 C591.6 330 592.6 332.9 593.8 336 C595 339.1 596.6 343.1 597.8 345.9 C599 348.7 599.7 350.5 600.8 352.9 C601.9 355.3 603.1 358 604.4 360.5 C605.7 363 607.2 365.7 608.4 367.7 C609.6 369.7 610.8 371.4 611.7 372.5 C612.6 373.6 612.8 373.9 613.8 374.1 C614.8 374.3 616.8 374.5 618 373.6 C619.2 372.7 620.2 370.7 621.3 368.9 C622.4 367.1 623.4 365.3 624.6 363 C625.8 360.7 627.4 357.6 628.6 355 C629.8 352.3 630.7 349.5 631.9 347.1 C633.1 344.7 634.4 342.4 635.8 340.5 C637.2 338.6 638.8 336.9 640.5 335.8 C642.2 334.6 644.2 333.7 645.8 333.6 C647.3 333.5 648.5 334.3 649.8 335.2 C651.1 336.1 652.2 337.9 653.7 339.1 C655.2 340.3 657.2 341.5 659 342.4 C660.8 343.3 662.9 344.5 664.4 344.3 C665.9 344.1 667 342 668.3 341.1 C669.6 340.2 671 340.2 672.3 339.1 C673.6 338 675.2 335.9 676.3 334.5 C677.4 333.1 677.7 332.8 678.7 330.9 C679.7 329 681.1 325.9 682.4 323 C683.7 320.1 685.2 316.8 686.3 313.7 C687.4 310.6 688.2 307.3 689 304.4 C689.8 301.5 690.5 299.3 691.3 296.4 C692.1 293.5 692.7 289.7 693.6 287 C694.5 284.3 696 283.4 696.9 280.3 C697.8 277.2 698.2 272.4 698.9 268.4 C699.6 264.4 700.6 256.7 701.3 256.5 C702 256.3 702.3 263.1 702.9 267.1 C703.5 271.1 704.2 275.9 704.9 280.3 C705.6 284.7 706.2 289.9 706.9 293.7 C707.6 297.5 708.6 299.1 709.2 302.9 C709.9 306.7 710.3 312.2 710.8 316.4 C711.3 320.6 711.8 325.4 712.2 328.3 C712.6 331.2 712.7 332.5 713.4 333.9 C714.1 335.2 715.7 334.5 716.5 336.4 C717.3 338.3 717.2 342.9 718 345.4 C718.8 347.8 720.3 348.9 721.2 351.1 C722.1 353.3 722.7 355.6 723.2 358.4 C723.8 361.2 724.1 364.6 724.5 367.7 C724.9 370.8 725.2 373.5 725.8 377.1 C726.3 380.7 727.2 385.1 727.8 389.1 C728.4 393.1 728.9 398 729.4 401.1 C729.9 404.2 730.4 406.2 730.7 407.7 C731.1 409.2 731.1 410.3 731.5 410.3 C731.9 410.3 732.6 409.4 733.1 407.7 C733.6 406 733.8 402.6 734.5 400.4 C735.2 398.2 736.4 397.2 737.1 394.4 C737.8 391.6 738.2 387.5 738.7 383.8 C739.2 380 739.7 375.7 740.2 371.9 C740.7 368.1 741 364.4 741.7 361.1 C742.4 357.8 743.6 355.1 744.4 351.8 C745.2 348.5 745.8 343.8 746.4 341.2 C747 338.5 747.2 337 747.8 335.9 C748.3 334.8 748.8 334.7 749.7 334.4 C750.6 334.1 752.1 335.1 753 333.9 C753.9 332.7 754.3 330.2 755 327.3 C755.7 324.4 756.3 320.5 757 316.7 C757.7 312.9 758.3 308.2 759 304.7 C759.7 301.2 760.2 297.8 761 295.5 C761.8 293.2 762.7 290.8 763.6 290.8 C764.5 290.8 765.5 293.2 766.3 295.5 C767.1 297.8 767.6 301.2 768.3 304.7 C768.9 308.2 769.6 312.4 770.2 316.7 C770.9 321 771.6 326.5 772.2 330.4 C772.8 334.3 773.1 336.8 773.6 339.9 C774.1 343 774.9 345.8 775.5 349.1 C776.1 352.4 776.8 357.1 777.5 359.7 C778.2 362.3 778.6 363.8 779.5 364.6 C780.4 365.4 781.9 363.9 782.8 364.6 C783.7 365.3 784.1 367.1 784.8 369 C785.5 370.9 786.1 373.5 786.9 376.2 C787.7 378.9 788.7 382.2 789.5 385.2 C790.3 388.2 791 392.2 791.5 394.4 C792 396.6 792.3 397.4 792.8 398.4 C793.3 399.4 793.6 400.4 794.4 400.4 C795.2 400.4 796.6 399.8 797.4 398.4 C798.2 397 798.7 394.2 799.4 391.8 C800.1 389.4 800.7 386.7 801.4 383.8 C802.1 380.9 802.8 377.9 803.4 374.6 C804 371.2 804.3 367.1 804.7 363.7 C805.1 360.3 805.5 356.7 806 354.4 C806.5 352.1 807.2 350.6 807.5 349.9"/>
<path class="opu" d="M97.5 342.9 C104.5 342.8 136.3 342.4 150 342.3 C163.7 342.2 186.7 342.1 200 342 C213.3 341.9 236.3 341.7 250 341.7 C263.7 341.7 293.5 341.6 302.7 341.7 C311.9 341.8 314.4 342.3 319.2 342.6 C324 342.9 333.5 343.8 338.7 344.2 C343.9 344.6 353 345.3 358.2 345.6 C363.4 345.9 372.8 346.5 377.7 346.5 C382.6 346.5 391.4 346.3 395.3 345.6 C399.2 344.9 404.1 342.3 407 341.1 C409.9 339.9 414.1 338.2 416.7 336.8 C419.3 335.4 424.2 332.2 426.5 330.9 C428.8 329.6 432.4 328 434.3 327 C436.2 326 439.7 323.8 441.1 323.5 C442.5 323.2 443.9 324.2 444.9 324.8 C445.9 325.4 447.7 327.5 448.5 328.2 C449.3 328.9 450.4 329.8 451 330.2 C451.6 330.6 452.1 330.3 453 331 C453.9 331.7 455.9 333.7 457.5 335.6 C459.1 337.5 463.3 342.6 465.3 345.3 C467.3 348 470.4 354.4 472.2 356 C474 357.6 477.1 357.7 479 357.6 C480.9 357.5 484.9 356.6 486.8 355.6 C488.7 354.6 491.9 351.8 493.6 350.2 C495.3 348.6 497.8 344.7 499.5 343.4 C501.2 342.1 504.5 340.5 506.3 340.4 C508.1 340.3 511 341.4 513.1 342.4 C515.2 343.4 519.7 346.4 521.9 348.2 C524.1 350 527.6 354.4 529.7 356 C531.8 357.6 535.9 359.7 537.5 360.3 C539.1 360.9 540.7 360 542 360.2 C543.3 360.4 545.7 361.9 547.2 361.9 C548.7 361.9 551.5 360.6 553.1 359.9 C554.7 359.2 557.8 357.3 558.9 357 C560 356.7 560.2 357.8 561 357.3 C561.8 356.8 563.1 354.5 564.8 353.1 C566.5 351.7 571.9 347.4 573.5 346.7 C575.1 346 576.1 347.5 577 347.5 C577.9 347.5 578.9 346.7 580.4 346.9 C581.9 347.1 585.8 348.8 588.1 349.2 C590.4 349.6 595.9 350.2 597.8 350.2 C599.7 350.2 601.2 349.8 602 349.5 C602.8 349.2 602.9 348 603.5 347.6 C604.1 347.2 605.4 348.1 606.5 346.8 C607.6 345.5 609.7 340.3 611.4 337.5 C613.1 334.7 617.1 329.3 619.2 325.8 C621.3 322.3 624.9 314.7 627 311.2 C629.1 307.7 633.5 301.2 634.8 299.5 C636.1 297.8 636.2 299.2 637 298.5 C637.8 297.8 639.7 294.8 640.7 294 C641.7 293.2 643.8 292.4 644.6 292.7 C645.4 293 646.4 294.9 646.9 296.6 C647.4 298.3 647.8 302.7 648.5 305.3 C649.2 307.9 651.5 312.4 652.4 316.1 C653.3 319.8 654.5 328.9 655.5 333 C656.5 337.1 658.5 343.1 659.7 346.8 C660.9 350.5 663.3 357.3 664.6 360.4 C665.9 363.5 668.3 367.6 669.5 370.2 C670.7 372.8 672.2 378.8 673.4 379.9 C674.6 381 677.3 379.4 678.3 378.4 C679.3 377.4 680.4 374.8 681.2 372.1 C682 369.4 683.2 362.1 684.1 358.5 C685 354.9 686.8 348.2 688 344.8 C689.2 341.4 691.6 335.6 692.9 333.1 C694.2 330.6 696.6 328.2 697.8 326.3 C699 324.4 700.7 320 701.7 318.5 C702.7 317 704.1 315.9 705 315.3 C705.9 314.7 707.6 312.9 708.5 314 C709.4 315.1 710.5 320.3 711.4 323.4 C712.3 326.5 714.3 333.4 715.3 337 C716.3 340.6 718 347.2 719.2 350.7 C720.4 354.2 722.8 360.9 724.1 363.4 C725.4 365.9 727.6 367.8 728.9 369.2 C730.2 370.6 732.8 372.4 733.8 373.7 C734.8 375 736 378.4 736.7 379 C737.4 379.6 738 378.9 738.7 378 C739.4 377.1 740.6 375 741.6 372.1 C742.6 369.2 745.2 360.5 746.5 356.5 C747.8 352.5 750.1 345.1 751.4 341.9 C752.7 338.7 754.8 334.4 756.2 332.2 C757.6 330 760.7 327.3 762.1 325.3 C763.5 323.3 766 318.4 767 317.5 C768 316.6 768.9 318.2 769.5 318.5 C770.1 318.8 770.8 317.8 771.8 319.5 C772.8 321.2 775.3 327.7 776.7 331.2 C778.1 334.7 781 341.9 782.6 345.8 C784.2 349.7 786.9 357 788.4 360.4 C789.9 363.8 792.8 369.2 794.2 371.2 C795.6 373.2 797.9 375.3 799.1 375.6 C800.3 375.9 802 375.2 803 373.7 C804 372.2 806.3 365.8 806.9 364.3 C807.5 362.8 807.4 362.7 807.5 362.5"/>
<path class="spf" d="M97.5 341.9 C99.6 341.9 105.6 342 110 342.1 C114.4 342.1 119 342.2 124 342.4 C129 342.7 135.2 343.1 140 343.5 C144.8 343.8 148.8 344.2 153 344.5 C157.2 344.9 161.4 345.2 165 345.5 C168.6 345.8 171.6 346 174.4 346.2 C177.2 346.4 179.6 346.5 182 346.6 C184.4 346.7 186.7 346.8 189 346.7 C191.3 346.7 193.6 346.5 196 346.3 C198.4 346.1 201.1 346.1 203.3 345.6 C205.5 345 206.5 344.4 209 343.2 C211.5 342 215.5 339.6 218.2 338.2 C220.9 336.7 222.8 335.7 225 334.5 C227.2 333.4 229.5 332.1 231.5 331.2 C233.5 330.3 235.2 329.8 237 329.2 C238.8 328.6 240.6 328.1 242.1 327.5 C243.6 327 244.7 326.5 246 326 C247.3 325.5 248.7 324.9 250 324.4 C251.3 323.9 252.7 323.4 254 323.1 C255.3 322.9 256.7 322.5 257.9 322.7 C259.1 322.8 260.3 322.9 261.4 323.9 C262.5 324.9 263.3 327.2 264.7 328.8 C266.1 330.3 268.4 331.8 270 333.3 C271.6 334.8 273.1 336.3 274.3 337.9 C275.6 339.5 276.4 341.1 277.5 343 C278.6 344.9 279.6 347.3 280.7 349.1 C281.8 350.9 282.8 352.4 283.9 353.6 C285 354.9 285.9 356.1 287.2 356.8 C288.4 357.5 290 357.7 291.4 357.9 C292.8 358.1 294.5 358 295.7 357.9 C296.9 357.8 297.4 357.6 298.4 357.2 C299.4 356.8 300.6 356.1 301.8 355.5 C303 355 303.9 354.7 305.4 353.7 C306.9 352.8 309.1 351.6 310.7 349.9 C312.2 348.3 313.4 345.2 314.7 343.7 C316 342.1 317.4 341.2 318.7 340.5 C320 339.9 321.1 339.5 322.6 339.7 C324.1 339.8 325.9 340.4 327.9 341.4 C329.9 342.4 332.6 344.1 334.6 345.6 C336.6 347 338.1 347.9 339.9 349.9 C341.7 351.9 343.4 355.5 345.2 357.5 C347 359.5 348.7 361 350.5 361.9 C352.3 362.9 354.3 363 355.8 363.2 C357.3 363.5 358.5 362.9 359.7 363.2 C360.9 363.6 361.9 365.3 363.1 365.3 C364.3 365.3 365.8 363.8 367 363.2 C368.2 362.7 369.1 362.9 370.3 361.9 C371.5 361 373 358.9 374.3 357.5 C375.6 356.2 377 354.8 378.3 354 C379.6 353.2 381 353 382.3 352.8 C383.6 352.5 385.1 353 386.3 352.5 C387.5 352 388.5 350.3 389.6 349.9 C390.7 349.6 391.7 350.5 392.9 350.6 C394.1 350.7 395.5 350.4 396.8 350.6 C398.1 350.8 399.4 351.5 400.8 351.8 C402.2 352.2 403.6 352.2 405.1 352.6 C406.6 353 408.1 354.1 409.7 354.1 C411.2 354.1 412.7 353.5 414.4 352.6 C416.1 351.7 418.1 350.4 419.7 348.8 C421.3 347.2 423 344.9 424.3 343.2 C425.6 341.5 426.2 340.5 427.3 338.6 C428.4 336.7 429.5 334.6 430.9 331.8 C432.3 329 434.2 324.8 435.6 321.7 C437.1 318.6 438.5 315.2 439.6 313.2 C440.7 311.2 441.1 311.1 442.2 309.8 C443.3 308.5 444.8 306.8 446.2 305.4 C447.6 303.9 449.6 302.4 450.8 301 C452 299.7 452.4 298.4 453.5 297.2 C454.6 296.1 456.4 295 457.5 294.1 C458.6 293.1 459.3 291.7 460.1 291.5 C460.9 291.3 461.6 291.6 462.1 292.8 C462.7 294.1 462.9 296.6 463.4 299.1 C464 301.6 464.6 305.3 465.4 307.9 C466.2 310.6 467.3 312.1 468.1 314.8 C468.9 317.5 469.4 321 470 324.3 C470.6 327.6 471 331.4 471.4 334.4 C471.9 337.3 472.3 340.2 472.7 342 C473.1 343.7 473.1 343.5 474 345.1 C474.9 346.7 476.9 349.3 478 351.4 C479.1 353.5 479.6 355.5 480.6 357.6 C481.6 359.7 483.1 361.6 484 363.9 C484.9 366.2 485.4 369.2 485.9 371.5 C486.5 373.8 486.6 376.3 487.3 377.8 C488 379.3 488.7 380.4 489.9 380.5 C491.1 380.6 493.4 379.7 494.6 378.4 C495.8 377.1 496.4 375.2 497.2 372.7 C498 370.3 498.5 366.8 499.2 363.9 C499.9 361 500.3 358.5 501.2 355.2 C502.1 351.8 503.6 346.7 504.5 343.8 C505.4 340.9 506.1 339.4 506.8 337.7 C507.5 335.9 507.8 335.2 508.8 333.2 C509.8 331.2 511.6 328.1 512.8 325.6 C514 323.1 515 320 516.1 318.1 C517.2 316.2 518.1 315.4 519.4 314.3 C520.7 313.3 522.8 311.6 524 311.8 C525.2 312.1 525.9 313.5 526.7 315.5 C527.5 317.6 527.9 321 528.7 324.4 C529.5 327.7 530.5 332.1 531.3 335.7 C532.1 339.3 532.5 342.8 533.3 345.8 C534.1 348.7 535.1 351.2 535.9 353.4 C536.7 355.5 537 356.5 538.2 358.6 C539.4 360.7 541.5 363.4 543.2 365.9 C544.9 368.4 546.8 371 548.5 373.4 C550.2 375.8 552 379.9 553.2 380.3 C554.4 380.8 554.9 378 555.8 376 C556.7 374 557.6 371.1 558.5 368.4 C559.4 365.6 560.3 362.2 561.1 359.6 C561.9 357 562.6 355 563.4 352.7 C564.2 350.4 564.7 348.2 565.8 345.8 C566.9 343.4 568.5 340.3 569.8 338.3 C571.1 336.2 572.5 334.9 573.7 333.2 C574.9 331.5 576 330.2 577 328.2 C578 326.2 578.7 322.8 579.7 321.2 C580.7 319.7 581.8 318.7 583 318.7 C584.2 318.7 585.8 319.7 587 321.2 C588.2 322.8 589.2 325.7 590.3 328.2 C591.4 330.7 592.4 333.4 593.6 336.4 C594.8 339.3 596.4 343.1 597.6 345.8 C598.8 348.4 599.5 350.1 600.6 352.4 C601.7 354.7 602.9 357.3 604.2 359.6 C605.5 362 607 364.6 608.2 366.5 C609.4 368.4 610.6 370 611.5 371 C612.4 372 612.5 372.4 613.6 372.5 C614.6 372.7 616.5 372.9 617.8 372.1 C619 371.3 620 369.3 621.1 367.6 C622.2 365.9 623.2 364.2 624.4 362 C625.6 359.8 627.2 356.9 628.4 354.4 C629.6 351.9 630.5 349.2 631.7 346.9 C632.9 344.6 634.2 342.4 635.6 340.6 C637 338.8 638.6 337.3 640.3 336.2 C642 335.1 644 334.2 645.6 334.1 C647.1 334 648.3 334.7 649.6 335.6 C650.9 336.5 652 338.2 653.5 339.3 C655 340.4 657 341.6 658.8 342.4 C660.6 343.3 662.6 344.4 664.2 344.2 C665.7 344 666.8 342 668.1 341.2 C669.4 340.4 670.8 340.3 672.1 339.3 C673.4 338.3 675 336.2 676.1 334.9 C677.2 333.6 677.5 333.3 678.5 331.5 C679.5 329.7 680.9 326.7 682.2 324 C683.5 321.3 685 318.1 686.1 315.2 C687.2 312.2 688 309.1 688.8 306.3 C689.6 303.6 690.3 301.5 691.1 298.7 C691.9 296 692.5 292.4 693.4 289.8 C694.3 287.3 695.8 286.4 696.7 283.4 C697.6 280.5 698 275.9 698.7 272.1 C699.4 268.4 700.4 261 701.1 260.8 C701.8 260.6 702.1 267.1 702.7 270.9 C703.3 274.7 704 279.2 704.7 283.4 C705.4 287.7 706 292.6 706.7 296.2 C707.4 299.7 708.4 301.3 709 304.9 C709.6 308.5 710.1 313.7 710.6 317.7 C711.1 321.8 711.6 326.3 712 329 C712.4 331.8 712.5 333.1 713.2 334.4 C713.9 335.6 715.5 334.9 716.3 336.7 C717.1 338.6 717 343 717.8 345.3 C718.6 347.6 720.1 348.6 721 350.7 C721.9 352.8 722.5 355 723 357.6 C723.5 360.3 723.9 363.5 724.3 366.5 C724.7 369.4 725 372 725.6 375.4 C726.1 378.8 727 383 727.6 386.8 C728.2 390.6 728.7 395.3 729.2 398.2 C729.7 401.1 730.1 403 730.5 404.5 C730.9 405.9 730.9 406.9 731.3 406.9 C731.7 406.9 732.4 406 732.9 404.5 C733.4 402.9 733.6 399.6 734.3 397.5 C735 395.4 736.2 394.5 736.9 391.8 C737.6 389.2 738 385.3 738.5 381.8 C739 378.2 739.5 374.1 740 370.5 C740.5 366.9 740.8 363.4 741.5 360.2 C742.2 357 743.4 354.5 744.2 351.4 C745 348.2 745.6 343.8 746.2 341.3 C746.8 338.8 747 337.3 747.6 336.3 C748.1 335.2 748.6 335.2 749.5 334.8 C750.4 334.5 751.9 335.5 752.8 334.4 C753.7 333.2 754.1 330.8 754.8 328.1 C755.5 325.4 756.1 321.6 756.8 318 C757.5 314.4 758.1 310 758.8 306.6 C759.5 303.3 760 300.1 760.8 297.9 C761.6 295.7 762.5 293.4 763.4 293.4 C764.3 293.4 765.3 295.7 766.1 297.9 C766.9 300.1 767.4 303.3 768.1 306.6 C768.7 310 769.4 314 770 318 C770.6 322.1 771.4 327.4 772 331 C772.6 334.7 772.9 337.1 773.4 340.1 C773.9 343 774.6 345.7 775.3 348.8 C775.9 351.9 776.6 356.4 777.3 358.9 C778 361.3 778.4 362.7 779.3 363.5 C780.2 364.3 781.7 362.8 782.6 363.5 C783.5 364.2 783.9 365.9 784.6 367.7 C785.3 369.5 785.9 372 786.7 374.5 C787.5 377.1 788.5 380.2 789.3 383.1 C790.1 386 790.8 389.7 791.3 391.8 C791.8 393.9 792.1 394.7 792.6 395.6 C793.1 396.6 793.4 397.5 794.2 397.5 C795 397.5 796.4 397 797.2 395.6 C798 394.3 798.5 391.7 799.2 389.4 C799.9 387.1 800.5 384.5 801.2 381.8 C801.9 379 802.6 376.2 803.2 373 C803.8 369.8 804.1 365.9 804.5 362.7 C804.9 359.5 805.3 356 805.8 353.8 C806.3 351.6 807 350.3 807.3 349.6"/>
</g>
<rect x="98" y="246.4" width="709.5" height="193.6" class="spine"/>
<line x1="93.1" x2="97.5" y1="426.2" y2="426.2" class="tick"/>
<text transform="translate(87.6 436) scale(0.905 1)" class="tl" text-anchor="end">0.3</text>
<text transform="translate(55.4 434.3) scale(1 0.8)" class="tl" style="stroke-width:0" text-anchor="end">−</text>
<line x1="93.1" x2="97.5" y1="398.5" y2="398.5" class="tick"/>
<text transform="translate(87.6 408.3) scale(0.905 1)" class="tl" text-anchor="end">0.2</text>
<text transform="translate(55.4 406.6) scale(1 0.8)" class="tl" style="stroke-width:0" text-anchor="end">−</text>
<line x1="93.1" x2="97.5" y1="370.8" y2="370.8" class="tick"/>
<text transform="translate(87.6 380.6) scale(0.905 1)" class="tl" text-anchor="end">0.1</text>
<text transform="translate(55.4 379) scale(1 0.8)" class="tl" style="stroke-width:0" text-anchor="end">−</text>
<line x1="93.1" x2="97.5" y1="343.2" y2="343.2" class="tick"/>
<text transform="translate(87.6 353) scale(0.905 1)" class="tl" text-anchor="end">0.0</text>
<line x1="93.1" x2="97.5" y1="315.5" y2="315.5" class="tick"/>
<text transform="translate(87.6 325.3) scale(0.905 1)" class="tl" text-anchor="end">0.1</text>
<line x1="93.1" x2="97.5" y1="287.9" y2="287.9" class="tick"/>
<text transform="translate(87.6 297.7) scale(0.905 1)" class="tl" text-anchor="end">0.2</text>
<line x1="93.1" x2="97.5" y1="260.2" y2="260.2" class="tick"/>
<text transform="translate(87.6 270) scale(0.905 1)" class="tl" text-anchor="end">0.3</text>
<line x1="98" x2="98" y1="440.5" y2="444.8" class="tick"/>
<text transform="translate(98.3 469.2) scale(0.905 1)" class="tl" text-anchor="middle">0</text>
<line x1="239.9" x2="239.9" y1="440.5" y2="444.8" class="tick"/>
<text transform="translate(240.2 469.2) scale(0.905 1)" class="tl" text-anchor="middle">5</text>
<line x1="381.8" x2="381.8" y1="440.5" y2="444.8" class="tick"/>
<text transform="translate(382.1 469.2) scale(0.905 1)" class="tl" text-anchor="middle">10</text>
<line x1="523.7" x2="523.7" y1="440.5" y2="444.8" class="tick"/>
<text transform="translate(524 469.2) scale(0.905 1)" class="tl" text-anchor="middle">15</text>
<line x1="665.6" x2="665.6" y1="440.5" y2="444.8" class="tick"/>
<text transform="translate(665.9 469.2) scale(0.905 1)" class="tl" text-anchor="middle">20</text>
<line x1="807.5" x2="807.5" y1="440.5" y2="444.8" class="tick"/>
<text transform="translate(807.8 469.2) scale(0.905 1)" class="tl" text-anchor="middle">25</text>
<text transform="translate(28.5 343.2) rotate(-90)" class="lab" text-anchor="middle">Amplitude</text>
<rect x="110.1" y="316.4" width="192.6" height="111.3" rx="4" class="leg"/>
<line x1="117.9" x2="170.9" y1="335.2" y2="335.2" class="nat ls"/>
<text transform="translate(188.6 344.3) scale(0.965 1)" class="lt">Natural</text>
<line x1="119.3" x2="169.5" y1="369.8" y2="369.8" class="opu ls"/>
<text transform="translate(188.6 378.9) scale(0.965 1)" class="lt">Opus</text>
<line x1="119.9" x2="169" y1="404.4" y2="404.4" class="spf ls"/>
<text transform="translate(188.6 413.5) scale(0.965 1)" class="lt">Opus_SPF</text>
<text x="453.3" y="497.4" class="lab" style="font-size:27px" text-anchor="middle">Time (ms)</text>
</svg></body></html>
